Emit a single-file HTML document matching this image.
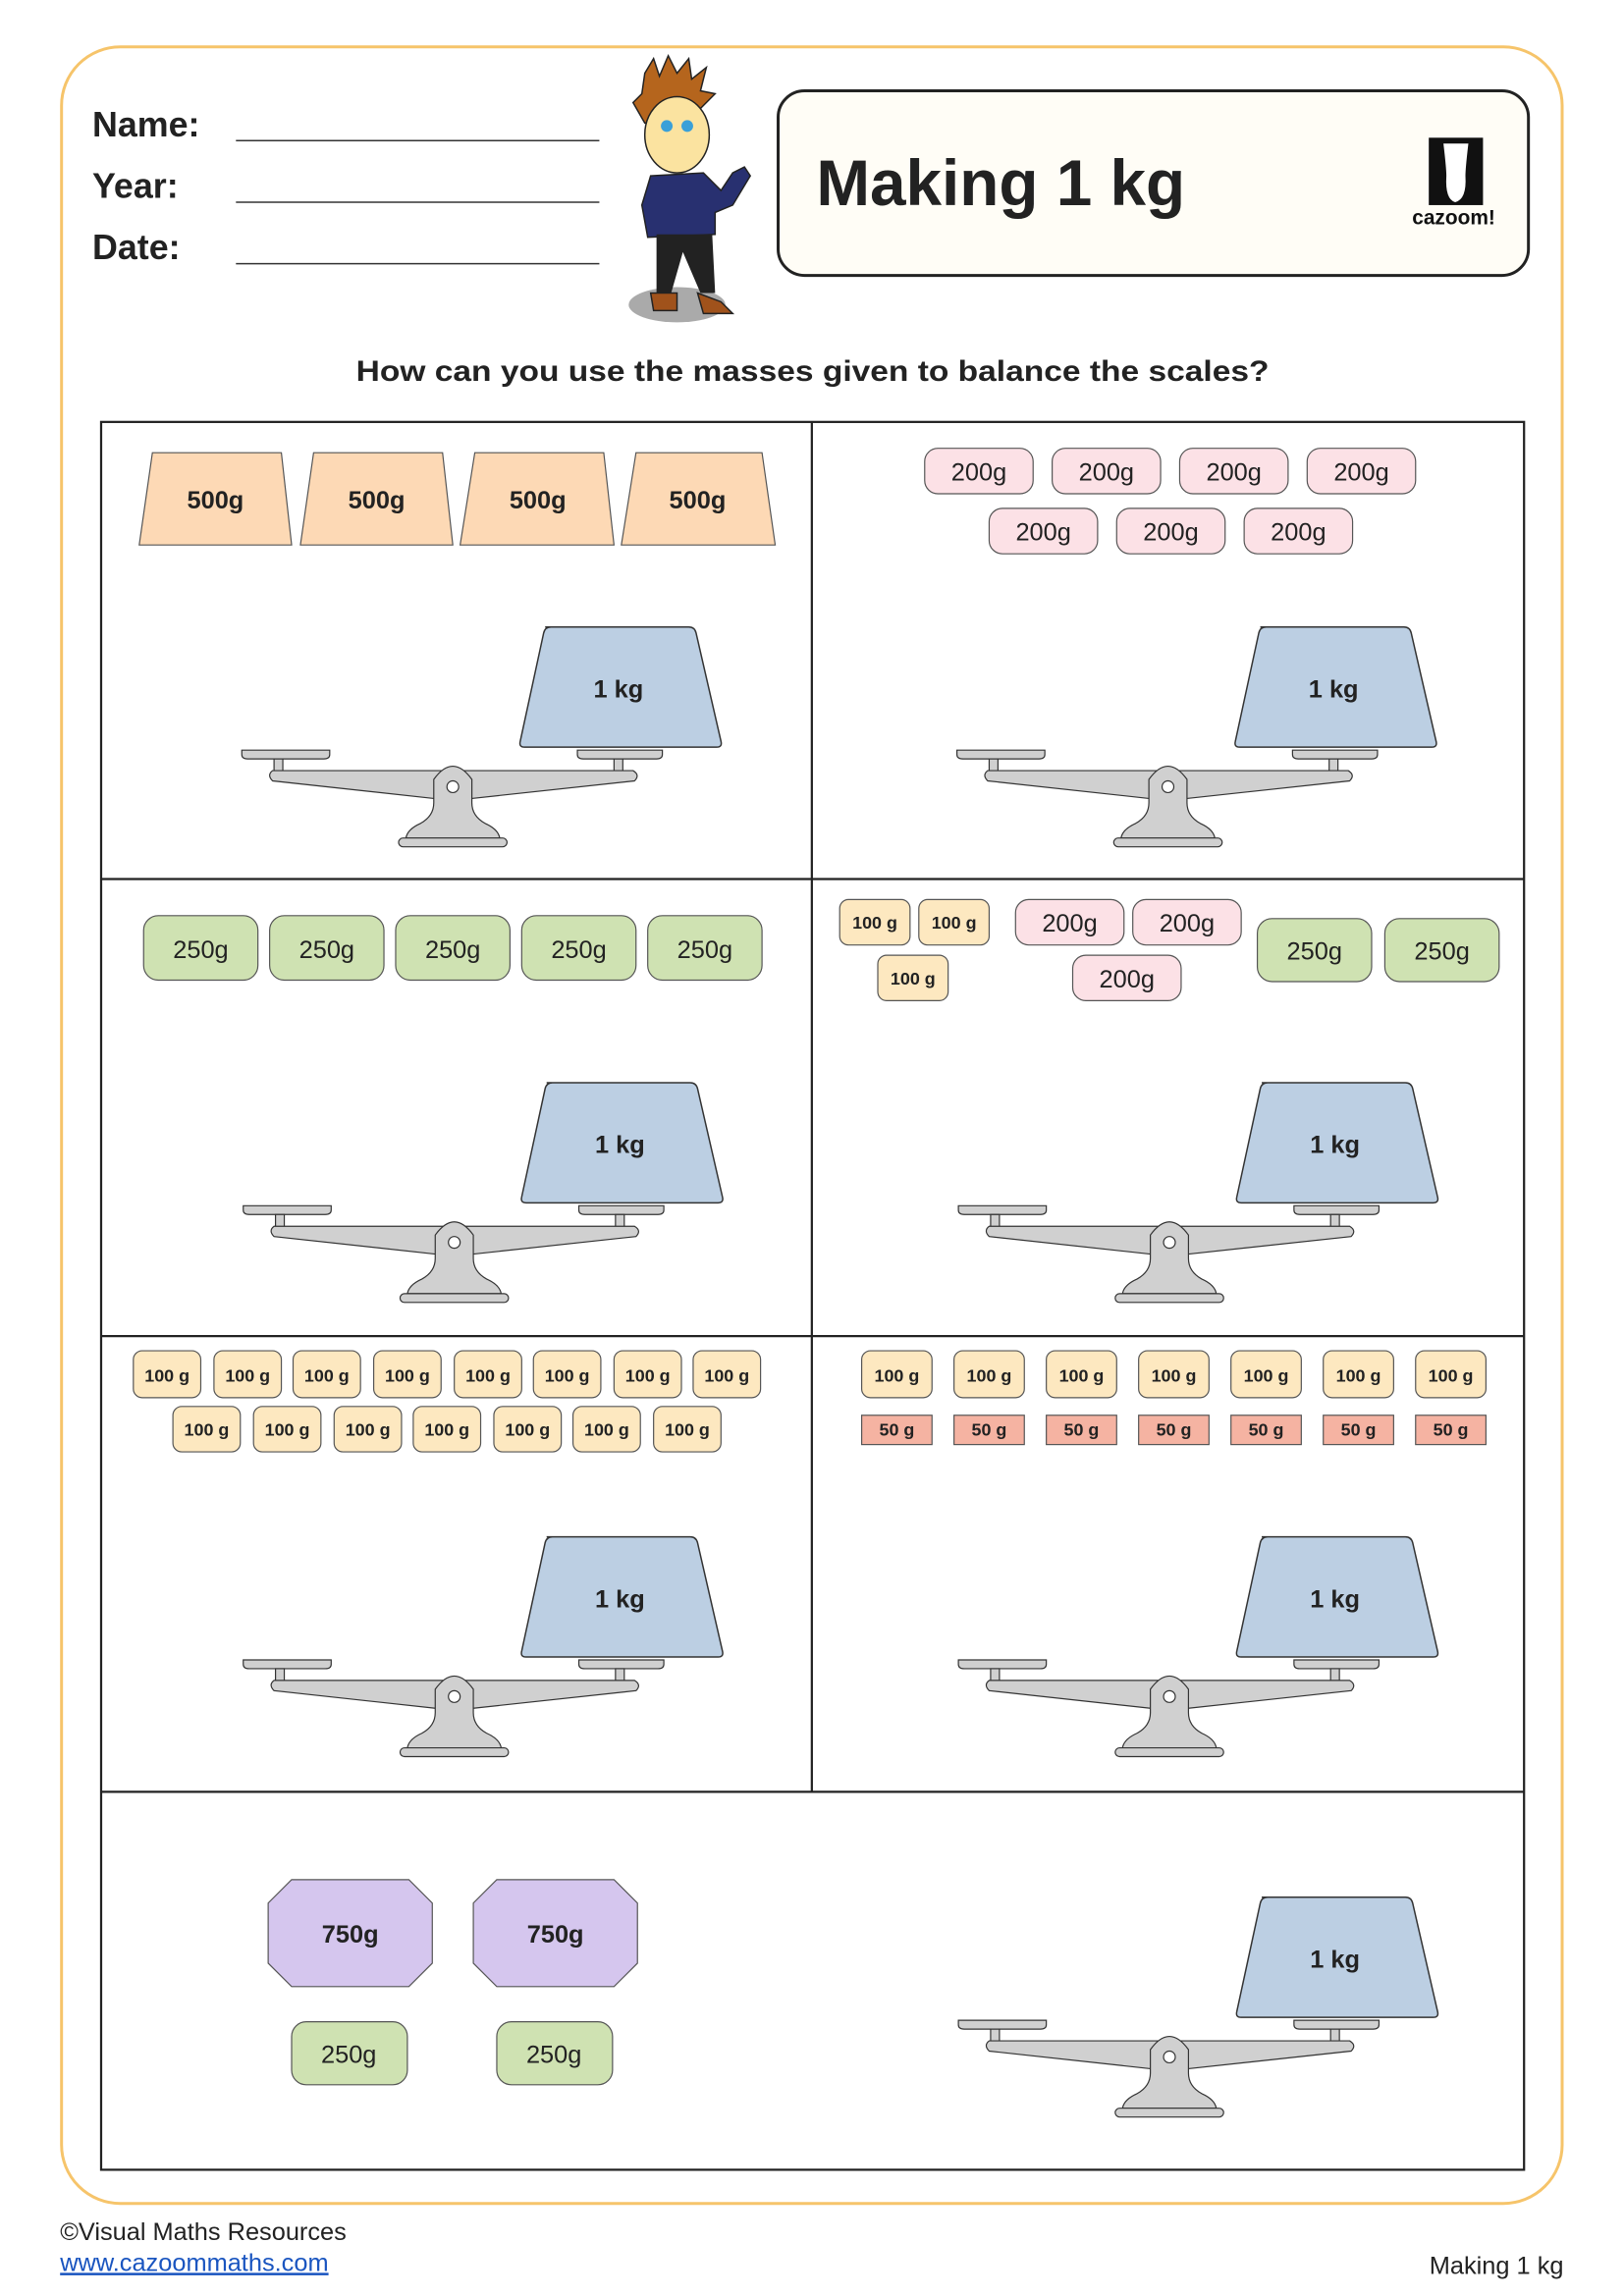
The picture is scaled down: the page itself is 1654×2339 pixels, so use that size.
<!DOCTYPE html>
<html><head><meta charset="utf-8"><style>
html,body{margin:0;padding:0;background:#fff}
svg{display:block}
text{font-family:"Liberation Sans",sans-serif}
</style></head><body>
<svg width="1654" height="2339" viewBox="0 0 1654 2339" xmlns="http://www.w3.org/2000/svg">
<g transform="scale(1.4925)">
<rect x="42" y="32" width="1024" height="1472" rx="40" fill="none" stroke="#f6c46a" stroke-width="2"/>
<g font-size="24" font-weight="bold" fill="#222">
<text x="63" y="93">Name:</text><text x="63" y="135">Year:</text><text x="63" y="177">Date:</text>
</g>
<g stroke="#333" stroke-width="1">
<line x1="161" y1="96" x2="409" y2="96"/><line x1="161" y1="138" x2="409" y2="138"/><line x1="161" y1="180" x2="409" y2="180"/>
</g>
<ellipse cx="462" cy="208" rx="33" ry="12" fill="#aaa"/>
<path d="M440 50 L446 40 L450 52 L456 38 L462 50 L470 40 L472 54 L482 46 L478 62 L488 64 L478 74 L480 84 L440 84 L432 70 L438 64 Z" fill="#b5651d" stroke="#222"/>
<ellipse cx="462" cy="92" rx="22" ry="26" fill="#fbe3a0" stroke="#222"/>
<circle cx="455" cy="86" r="4" fill="#3aa0d8"/><circle cx="469" cy="86" r="4" fill="#3aa0d8"/>
<path d="M444 120 L480 118 L492 130 L500 118 L508 114 L512 120 L500 140 L488 145 L488 160 L442 162 L438 140 Z" fill="#283070" stroke="#222"/>
<path d="M448 160 L486 160 L488 200 L478 200 L466 172 L458 200 L448 200 Z" fill="#222"/>
<path d="M444 200 L462 200 L462 212 L446 212 Z M476 200 L492 206 L500 214 L480 214 Z" fill="#a0521b" stroke="#222"/>
<rect x="531" y="62" width="512" height="126" rx="18" fill="#fffdf6" stroke="#222" stroke-width="2"/>
<text x="557" y="140" font-size="44" font-weight="bold" fill="#222">Making 1 kg</text>
<rect x="975" y="94" width="37" height="46" fill="#111"/>
<path d="M985 98 L1002 98 Q1000 115 1000 120 Q1001 136 993 138 Q986 136 987 120 Q987 115 985 98 Z" fill="#fff"/>
<text x="992" y="153" font-size="14" font-weight="bold" font-family="Liberation Serif" text-anchor="middle" fill="#111">cazoom!</text>
<text x="243" y="260" font-size="20" font-weight="bold" fill="#222" textLength="623" lengthAdjust="spacingAndGlyphs">How can you use the masses given to balance the scales?</text>
<g fill="none" stroke="#222" stroke-width="1.5">
<rect x="69" y="288" width="971" height="1193"/>
<line x1="69" y1="600" x2="1040" y2="600"/><line x1="69" y1="912" x2="1040" y2="912"/><line x1="69" y1="1223" x2="1040" y2="1223"/>
<line x1="554" y1="288" x2="554" y2="1223"/>
</g>
<defs>
<g id="sc">
<path d="M372 428 L470 428 Q474 428 475 432 L492 506 Q493 510 489 510 L358 510 Q354 510 355 506 L371 432 Q372 428 376 428 Z" fill="#bccfe3" stroke="#333"/>
<text x="422" y="476" font-size="17" font-weight="bold" text-anchor="middle" fill="#222">1 kg</text>
<path d="M165 512 L225 512 L225 515 Q225 518 221 518 L169 518 Q165 518 165 515 Z M394 512 L452 512 L452 515 Q452 518 448 518 L398 518 Q394 518 394 515 Z" fill="#d0d0d0" stroke="#333" stroke-width="0.8"/>
<path d="M187 518 L193 518 L193 528 L187 528 Z M419 518 L425 518 L425 528 L419 528 Z" fill="#d0d0d0" stroke="#333" stroke-width="0.8"/>
<path d="M186 526 L432 526 Q437 529 433 533 L322 545 L296 545 L186 533 Q182 529 186 526 Z" fill="#d0d0d0" stroke="#333" stroke-width="0.8"/>
<path d="M296 548 L296 532 Q309 514 322 532 L322 548 Q322 557 331 562 Q340 566 341 572 L277 572 Q278 566 287 562 Q296 557 296 548 Z" fill="#d0d0d0" stroke="#333" stroke-width="0.8"/>
<circle cx="309" cy="537" r="4" fill="#fff" stroke="#333" stroke-width="0.8"/>
<rect x="272" y="572" width="74" height="6" rx="3" fill="#d0d0d0" stroke="#333" stroke-width="0.8"/>
</g>
</defs>
<use href="#sc"/>
<use href="#sc" transform="translate(488,0)"/>
<use href="#sc" transform="translate(1,311)"/>
<use href="#sc" transform="translate(489,311)"/>
<use href="#sc" transform="translate(1,621)"/>
<use href="#sc" transform="translate(489,621)"/>
<use href="#sc" transform="translate(489,867)"/>
<g fill="#fdd9b5" stroke="#555" stroke-width="0.8">
<path d="M104 309 L192 309 L199 372 L95 372 Z"/><path d="M214 309 L302 309 L309 372 L205 372 Z"/>
<path d="M324 309 L412 309 L419 372 L314 372 Z"/><path d="M434 309 L520 309 L529 372 L424 372 Z"/>
</g>
<g font-size="17" font-weight="bold" text-anchor="middle" fill="#222">
<text x="147" y="347">500g</text><text x="257" y="347">500g</text><text x="367" y="347">500g</text><text x="476" y="347">500g</text>
</g>
<g fill="#fce1e6" stroke="#555" stroke-width="0.8">
<rect x="631" y="306" width="74" height="31" rx="9"/><rect x="718" y="306" width="74" height="31" rx="9"/><rect x="805" y="306" width="74" height="31" rx="9"/><rect x="892" y="306" width="74" height="31" rx="9"/>
<rect x="675" y="347" width="74" height="31" rx="9"/><rect x="762" y="347" width="74" height="31" rx="9"/><rect x="849" y="347" width="74" height="31" rx="9"/>
<rect x="693" y="614" width="74" height="31" rx="9"/><rect x="773" y="614" width="74" height="31" rx="9"/><rect x="732" y="652" width="74" height="31" rx="9"/>
</g>
<g font-size="17" text-anchor="middle" fill="#222">
<text x="668" y="328">200g</text><text x="755" y="328">200g</text><text x="842" y="328">200g</text><text x="929" y="328">200g</text>
<text x="712" y="369">200g</text><text x="799" y="369">200g</text><text x="886" y="369">200g</text>
<text x="730" y="636">200g</text><text x="810" y="636">200g</text><text x="769" y="674">200g</text>
</g>
<g fill="#cfe2b2" stroke="#555" stroke-width="0.8">
<rect x="98" y="625" width="78" height="44" rx="10"/><rect x="184" y="625" width="78" height="44" rx="10"/><rect x="270" y="625" width="78" height="44" rx="10"/><rect x="356" y="625" width="78" height="44" rx="10"/><rect x="442" y="625" width="78" height="44" rx="10"/>
<rect x="858" y="627" width="78" height="43" rx="10"/><rect x="945" y="627" width="78" height="43" rx="10"/>
<rect x="199" y="1380" width="79" height="43" rx="10"/><rect x="339" y="1380" width="79" height="43" rx="10"/>
</g>
<g font-size="17" text-anchor="middle" fill="#222">
<text x="137" y="654">250g</text><text x="223" y="654">250g</text><text x="309" y="654">250g</text><text x="395" y="654">250g</text><text x="481" y="654">250g</text>
<text x="897" y="655">250g</text><text x="984" y="655">250g</text>
<text x="238" y="1408">250g</text><text x="378" y="1408">250g</text>
</g>
<g fill="#fde8c0" stroke="#555" stroke-width="0.8">
<rect x="573" y="614" width="48" height="31" rx="6"/><rect x="627" y="614" width="48" height="31" rx="6"/><rect x="599" y="652" width="48" height="31" rx="6"/>
<rect x="91" y="922" width="46" height="32" rx="6"/><rect x="146" y="922" width="46" height="32" rx="6"/><rect x="200" y="922" width="46" height="32" rx="6"/><rect x="255" y="922" width="46" height="32" rx="6"/><rect x="310" y="922" width="46" height="32" rx="6"/><rect x="364" y="922" width="46" height="32" rx="6"/><rect x="419" y="922" width="46" height="32" rx="6"/><rect x="473" y="922" width="46" height="32" rx="6"/>
<rect x="118" y="960" width="46" height="31" rx="6"/><rect x="173" y="960" width="46" height="31" rx="6"/><rect x="228" y="960" width="46" height="31" rx="6"/><rect x="282" y="960" width="46" height="31" rx="6"/><rect x="337" y="960" width="46" height="31" rx="6"/><rect x="391" y="960" width="46" height="31" rx="6"/><rect x="446" y="960" width="46" height="31" rx="6"/>
<rect x="588" y="922" width="48" height="32" rx="6"/><rect x="651" y="922" width="48" height="32" rx="6"/><rect x="714" y="922" width="48" height="32" rx="6"/><rect x="777" y="922" width="48" height="32" rx="6"/><rect x="840" y="922" width="48" height="32" rx="6"/><rect x="903" y="922" width="48" height="32" rx="6"/><rect x="966" y="922" width="48" height="32" rx="6"/>
</g>
<g fill="#f5b3a2" stroke="#555" stroke-width="0.8">
<rect x="588" y="966" width="48" height="20"/><rect x="651" y="966" width="48" height="20"/><rect x="714" y="966" width="48" height="20"/><rect x="777" y="966" width="48" height="20"/><rect x="840" y="966" width="48" height="20"/><rect x="903" y="966" width="48" height="20"/><rect x="966" y="966" width="48" height="20"/>
</g>
<g font-size="12" font-weight="bold" text-anchor="middle" fill="#222">
<text x="597" y="634">100 g</text><text x="651" y="634">100 g</text><text x="623" y="672">100 g</text>
<text x="114" y="943">100 g</text><text x="169" y="943">100 g</text><text x="223" y="943">100 g</text><text x="278" y="943">100 g</text><text x="333" y="943">100 g</text><text x="387" y="943">100 g</text><text x="442" y="943">100 g</text><text x="496" y="943">100 g</text>
<text x="141" y="980">100 g</text><text x="196" y="980">100 g</text><text x="251" y="980">100 g</text><text x="305" y="980">100 g</text><text x="360" y="980">100 g</text><text x="414" y="980">100 g</text><text x="469" y="980">100 g</text>
<text x="612" y="943">100 g</text><text x="675" y="943">100 g</text><text x="738" y="943">100 g</text><text x="801" y="943">100 g</text><text x="864" y="943">100 g</text><text x="927" y="943">100 g</text><text x="990" y="943">100 g</text>
<text x="612" y="980">50 g</text><text x="675" y="980">50 g</text><text x="738" y="980">50 g</text><text x="801" y="980">50 g</text><text x="864" y="980">50 g</text><text x="927" y="980">50 g</text><text x="990" y="980">50 g</text>
</g>
<g fill="#d5c6ee" stroke="#555" stroke-width="0.8">
<path d="M199 1283 L279 1283 L295 1299 L295 1340 L279 1356 L199 1356 L183 1340 L183 1299 Z"/>
<path d="M339 1283 L419 1283 L435 1299 L435 1340 L419 1356 L339 1356 L323 1340 L323 1299 Z"/>
</g>
<g font-size="17" font-weight="bold" text-anchor="middle" fill="#222">
<text x="239" y="1326">750g</text><text x="379" y="1326">750g</text>
</g>
<text x="41" y="1529" font-size="17" fill="#222">©Visual Maths Resources</text>
<text x="41" y="1550" font-size="17" fill="#1a55c0" text-decoration="underline">www.cazoommaths.com</text>
<text x="1067" y="1552" font-size="17" fill="#222" text-anchor="end">Making 1 kg</text>
</g>
</svg>
</body></html>
